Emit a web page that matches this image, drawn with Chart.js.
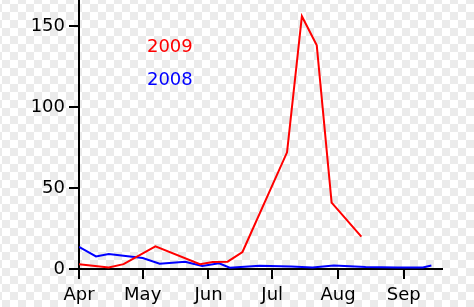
<!DOCTYPE html>
<html>
<head>
<meta charset="utf-8">
<script src="https://cdn.jsdelivr.net/npm/chart.js@4.4.1/dist/chart.umd.min.js"></script>
<style>
  html, body { margin: 0; padding: 0; }
  body {
    width: 474px; height: 307px; overflow: hidden;
    background-color: #fff;
    background-image: conic-gradient(#ebebeb 25%, #fff 0 50%, #ebebeb 0 75%, #fff 0);
    background-size: 16px 16px;
    background-position: 2px 4px;
  }
  #wrap { position: relative; width: 474px; height: 307px; }
</style>
</head>
<body>
<div id="wrap"><canvas id="myChart" width="474" height="307"></canvas></div>
<script>
// days since 1 April
const monthDays = [0, 30, 61, 91, 122, 153];
const monthLabels = ["Apr", "May", "Jun", "Jul", "Aug", "Sep"];
const yTicks = [0, 50, 100, 150];

const days2009 = [0, 14, 21, 36, 57, 63, 70, 77, 98, 105, 112, 119, 133];
const values2009 = [3, 1, 3, 14, 3, 4.3, 4.5, 10.5, 72, 156, 138, 41, 20];

const days2008 = [0, 8, 14, 30, 38, 50, 58, 66, 71, 85, 100, 110, 120, 135, 150, 162, 166];
const values2008 = [13.6, 7.8, 9.3, 6.8, 3.3, 4.5, 1.9, 3.5, 0.8, 2, 1.5, 1, 2.2, 1.2, 1, 1, 2.2];

// where the year labels sit, in data units
const seriesLabels = [
    { text: "2009", day: 32, value: 137, color: "#ff0000" },
    { text: "2008", day: 32, value: 116.5, color: "#0000ff" },
];

const toPoints = (xs, ys) => xs.map((x, i) => ({ x: x, y: ys[i] }));

const yearLabels = {
    id: "yearLabels",
    afterDatasetsDraw(chart) {
        const ctx = chart.ctx;
        const xs = chart.scales.x;
        const ys = chart.scales.y;
        ctx.save();
        ctx.font = "18px 'DejaVu Sans'";
        ctx.textAlign = "left";
        ctx.textBaseline = "middle";
        seriesLabels.forEach((l) => {
            ctx.fillStyle = l.color;
            ctx.fillText(l.text, xs.getPixelForValue(l.day), ys.getPixelForValue(l.value));
        });
        ctx.restore();
    },
};

const axisStyle = {
    grid: { drawOnChartArea: false, drawTicks: true, tickLength: 10, color: "#000", lineWidth: 2 },
    border: { display: true, color: "#000", width: 2 },
};

const ctx = document.getElementById("myChart").getContext("2d");

const myChart = new Chart(ctx, {
    type: "line",
    data: {
        datasets: [
            {
                label: "2009",
                data: toPoints(days2009, values2009),
                borderColor: "#ff0000",
                borderWidth: 2,
                pointRadius: 0,
                tension: 0,
                fill: false,
            },
            {
                label: "2008",
                data: toPoints(days2008, values2008),
                borderColor: "#0000ff",
                borderWidth: 2,
                pointRadius: 0,
                tension: 0,
                fill: false,
            },
        ],
    },
    options: {
        responsive: false,
        animation: false,
        layout: { padding: { top: 0, right: 32, bottom: 0, left: 0 } },
        plugins: { legend: { display: false }, tooltip: { enabled: false } },
        scales: {
            x: {
                type: "linear",
                min: 0,
                max: 171,
                ...axisStyle,
                afterBuildTicks: (axis) => {
                    axis.ticks = monthDays.map((v) => ({ value: v }));
                },
                afterFit: (axis) => {
                    axis.height = 38;
                    axis.paddingLeft = 0;
                    axis.paddingRight = 0;
                },
                ticks: {
                    color: "#000",
                    font: { family: "'DejaVu Sans'", size: 18 },
                    padding: 6,
                    maxRotation: 0,
                    autoSkip: false,
                    callback: (value, index) => monthLabels[index],
                },
            },
            y: {
                type: "linear",
                min: 0,
                max: 166,
                ...axisStyle,
                afterBuildTicks: (axis) => {
                    axis.ticks = yTicks.map((v) => ({ value: v }));
                },
                afterFit: (axis) => {
                    axis.width = 79;
                    axis.paddingTop = 0;
                    axis.paddingBottom = 0;
                },
                ticks: {
                    color: "#000",
                    font: { family: "'DejaVu Sans'", size: 18 },
                    padding: 4,
                    autoSkip: false,
                },
            },
        },
    },
    plugins: [yearLabels],
});
</script>
</body>
</html>
